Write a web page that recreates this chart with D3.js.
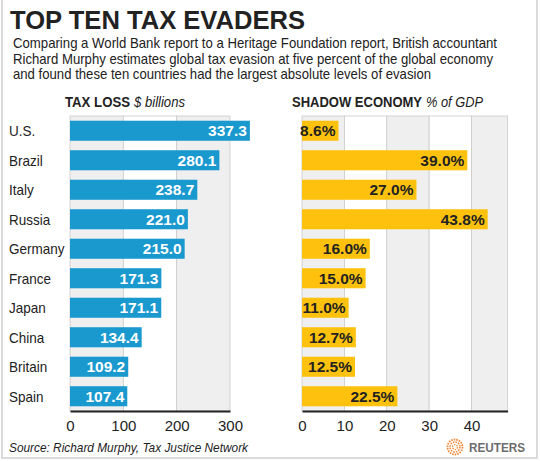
<!DOCTYPE html>
<html>
<head>
<meta charset="utf-8">
<script src="https://cdn.jsdelivr.net/npm/d3@7"></script>
<style>
  body { margin: 0; background: #fff; }
  text { font-family: "Liberation Sans", Arial, Helvetica, sans-serif; fill: #222; }
</style>
</head>
<body>
<div id="chart"></div>
<script>
// data
var countries = ["U.S.", "Brazil", "Italy", "Russia", "Germany", "France", "Japan", "China", "Britain", "Spain"];
var taxLoss = [337.3, 280.1, 238.7, 221.0, 215.0, 171.3, 171.1, 134.4, 109.2, 107.4];
var shadowEconomy = [8.6, 39.0, 27.0, 43.8, 16.0, 15.0, 11.0, 12.7, 12.5, 22.5];
var taxTicks = [0, 100, 200, 300];
var shadowTicks = [0, 10, 20, 30, 40];

var W = 540, H = 461;
var svg = d3.select("#chart").append("svg")
    .attr("width", W)
    .attr("height", H);

// outer frame
svg.append("rect")
    .attr("x", 2).attr("y", -2)
    .attr("width", 535).attr("height", 460)
    .attr("fill", "none").attr("stroke", "#cfcfcf").attr("stroke-width", 1.5);

// title + intro
svg.append("text")
    .attr("x", 10).attr("y", 28.5)
    .attr("font-size", 25).attr("font-weight", "bold")
    .attr("textLength", 295).attr("lengthAdjust", "spacingAndGlyphs")
    .text("TOP TEN TAX EVADERS");

var intro = [
  ["Comparing a World Bank report to a Heritage Foundation report, British accountant", 484],
  ["Richard Murphy estimates global tax evasion at five percent of the global economy", 480],
  ["and found these ten countries had the largest absolute levels of evasion", 418]
];
intro.forEach(function(l, i){
    svg.append("text")
        .attr("x", 13).attr("y", 48 + i * 15.6)
        .attr("font-size", 14.5)
        .attr("textLength", l[1]).attr("lengthAdjust", "spacingAndGlyphs")
        .text(l[0]);
});

var plotTop = 116, plotBottom = 411;
var y = d3.scaleBand().domain(countries).range([plotTop, plotBottom])
    .paddingInner(0.32).paddingOuter(0.16);

var xL = d3.scaleLinear().domain([0, 300]).range([70, 230]);
var xR = d3.scaleLinear().domain([0, 48.5]).range([302, 507.6]);

function header(x, bold, ital, bw, iw){
    var t = svg.append("text").attr("x", x).attr("y", 106.5).attr("font-size", 14);
    t.append("tspan").attr("font-weight", "bold")
        .attr("textLength", bw).attr("lengthAdjust", "spacingAndGlyphs").text(bold);
    t.append("tspan").attr("dx", 4).attr("font-style", "italic")
        .attr("textLength", iw).attr("lengthAdjust", "spacingAndGlyphs").text(ital);
}
header(65, "TAX LOSS", "$ billions", 65, 51);
header(292, "SHADOW ECONOMY", "% of GDP", 130, 57);

function bands(x, edges){
    var g = svg.append("g");
    for (var i = 0; i < edges.length - 1; i++) {
        g.append("rect")
            .attr("x", x(edges[i])).attr("y", plotTop)
            .attr("width", x(edges[i + 1]) - x(edges[i]))
            .attr("height", plotBottom - plotTop)
            .attr("fill", i % 2 === 0 ? "#efefef" : "#fff")
            .attr("stroke", "#cbcbcb").attr("stroke-width", 0.8);
    }
}
bands(xL, [0, 100, 200, 300]);
bands(xR, [0, 10, 20, 30, 40, 48.5]);

function panel(x, vals, fill, labColor, fmt){
    var g = svg.append("g");
    g.selectAll("rect.bar").data(vals).enter().append("rect")
        .attr("class", "bar")
        .attr("x", x(0))
        .attr("y", function(d, i){ return y(countries[i]); })
        .attr("width", function(d){ return x(d) - x(0); })
        .attr("height", y.bandwidth())
        .attr("fill", fill);
    g.selectAll("text.val").data(vals).enter().append("text")
        .attr("class", "val")
        .attr("x", function(d){ return x(d) - 3; })
        .attr("y", function(d, i){ return y(countries[i]) + y.bandwidth() / 2 + 5.5; })
        .attr("text-anchor", "end")
        .attr("font-size", 15.5).attr("font-weight", "bold")
        .style("fill", labColor)
        .text(fmt);
}
panel(xL, taxLoss, "#1a99cf", "#fff", function(d){ return d.toFixed(1); });
panel(xR, shadowEconomy, "#fec20e", "#222", function(d){ return d.toFixed(1) + "%"; });

// country names (squeezed a bit, the original face is narrower)
svg.append("g").attr("transform", "translate(9,0) scale(0.9,1)")
  .selectAll("text").data(countries).enter().append("text")
    .attr("x", 0)
    .attr("y", function(d){ return y(d) + y.bandwidth() / 2 + 5.5; })
    .attr("font-size", 15)
    .text(function(d){ return d; });

function axis(x, ticks){
    var g = svg.append("g").attr("transform", "translate(0," + plotBottom + ")")
        .call(d3.axisBottom(x).tickValues(ticks).tickSize(0).tickPadding(9.5));
    g.select(".domain").attr("stroke", "#222").attr("stroke-width", 2);
    g.selectAll("text").attr("font-size", 15)
        .style("font-family", "'Liberation Sans', Arial, sans-serif").style("fill", "#222");
}
axis(xL, taxTicks);
axis(xR, shadowTicks);

svg.append("text")
    .attr("x", 9).attr("y", 451.5)
    .attr("font-size", 13.5).attr("font-style", "italic")
    .attr("textLength", 239).attr("lengthAdjust", "spacingAndGlyphs")
    .text("Source: Richard Murphy, Tax Justice Network");

// Reuters mark
var logo = svg.append("g").attr("transform", "translate(455,447)");
[7.5, 5, 2.5].forEach(function(r, i){
    logo.append("circle").attr("r", r)
        .attr("fill", "none").attr("stroke", "#f08a3c")
        .attr("stroke-width", 1.8 - i * 0.3)
        .attr("stroke-dasharray", "1.6,1");
});
svg.append("text")
    .attr("x", 469).attr("y", 452)
    .attr("font-size", 13).attr("font-weight", "bold")
    .attr("textLength", 56).attr("lengthAdjust", "spacingAndGlyphs")
    .style("fill", "#6d6d6d")
    .text("REUTERS");
</script>
</body>
</html>
